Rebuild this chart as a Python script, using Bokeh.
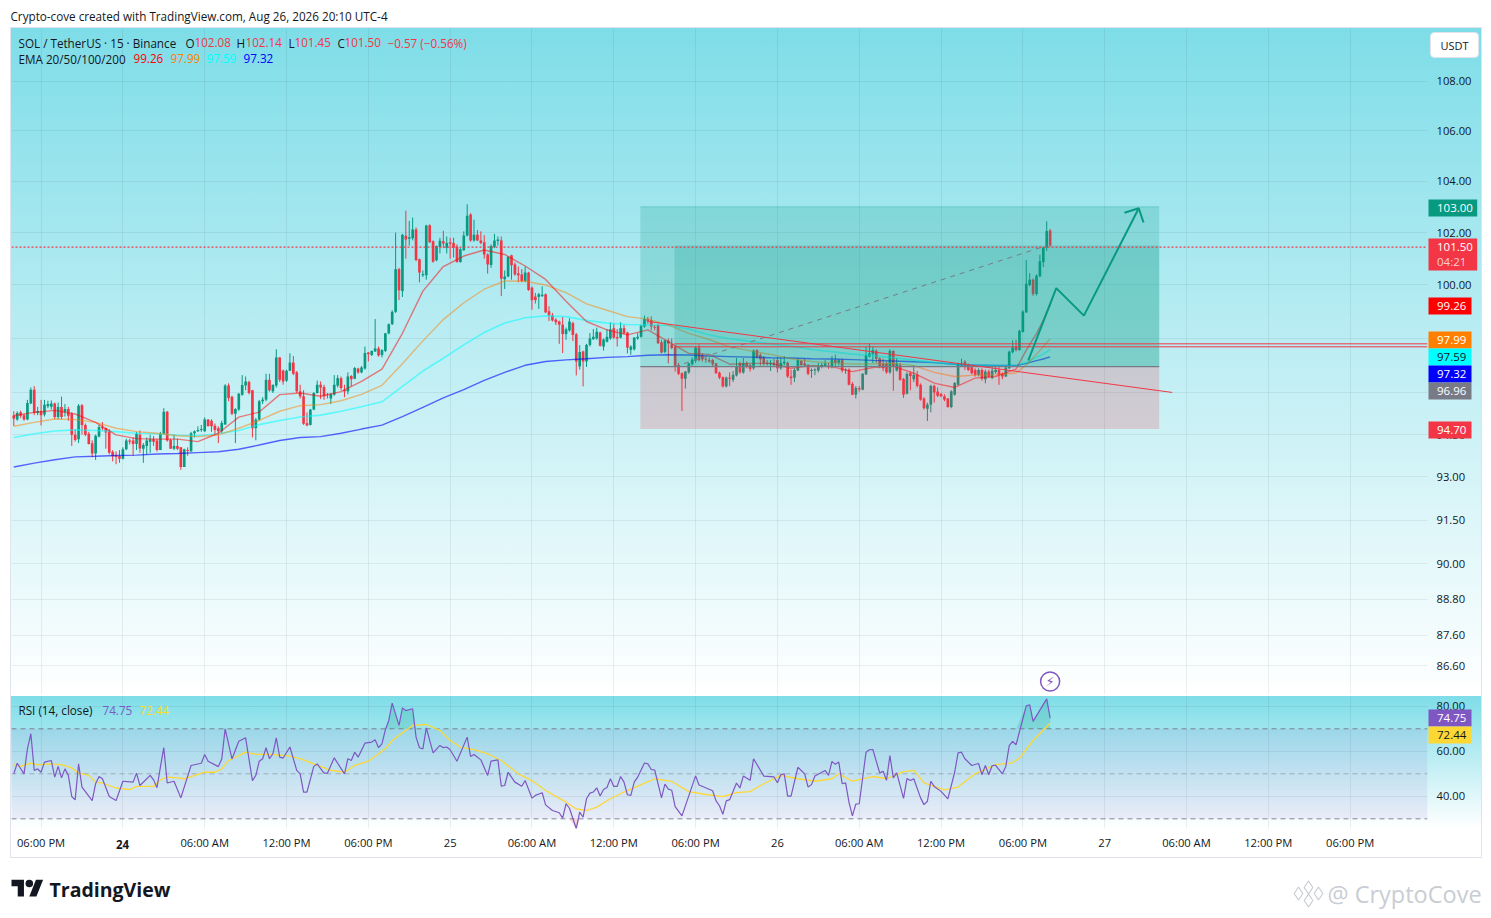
from bokeh.plotting import figure
from bokeh.layouts import column
from bokeh.models import Range1d, FixedTicker, NumeralTickFormatter, Label, Span, BoxAnnotation, Spacer
from bokeh.embed import file_html
from bokeh.resources import INLINE
from bokeh.core.properties import value
import numpy as np

opens = [95.19,95.04,95.3,95.2,95.04,95.62,96.12,95.28,95.35,95.22,
95.52,95.5,95.62,95.13,95.49,95.3,95.42,95.25,94.5,94.34,
95.56,94.85,94.53,94.19,93.83,94.43,94.77,94.74,94.62,93.89,
93.77,93.73,93.64,93.98,94.29,94.29,94.17,94.5,94.0,94.1,
94.25,94.34,94.29,93.95,94.53,95.32,94.31,94.0,94.1,94.05,
93.35,93.95,93.9,94.55,94.62,94.67,94.62,95.04,95.0,94.82,
94.73,94.62,94.86,96.27,95.86,95.25,95.4,95.94,96.27,96.4,
96.1,94.73,95.04,95.7,95.76,96.48,96.06,96.27,97.3,96.82,
96.45,96.81,97.11,96.75,96.06,95.88,94.91,94.85,95.4,96.0,
96.3,96.22,95.94,95.8,95.94,96.27,96.54,96.12,96.06,96.62,
96.52,96.89,96.75,96.89,97.48,97.39,97.52,97.63,97.39,97.54,
98.19,98.53,98.99,100.6,99.77,101.88,101.76,101.78,102.12,100.98,
100.37,100.37,102.28,101.67,100.94,101.45,101.67,101.42,101.63,101.6,
101.46,100.87,101.32,101.89,102.7,101.7,101.92,101.7,101.63,101.16,
100.76,101.46,101.68,101.7,100.22,100.32,101.13,100.78,100.44,100.4,
100.15,100.47,99.9,99.56,99.55,99.58,99.65,99.01,98.86,98.7,
98.63,98.51,98.16,98.3,98.57,98.15,96.97,97.52,97.15,97.76,
97.97,98.0,98.22,97.7,97.88,98.0,98.38,98.05,98.03,98.38,
98.22,97.58,97.6,98.0,98.06,98.44,98.72,98.68,98.43,98.49,
97.86,97.5,97.92,97.78,97.69,97.02,96.72,96.52,96.75,97.05,
97.18,97.66,97.39,97.25,97.2,97.2,97.08,96.74,96.58,96.24,
96.56,96.48,96.64,97.08,96.75,97.08,97.02,96.9,97.57,97.39,
97.3,97.1,97.05,97.1,97.2,96.9,97.08,97.1,96.6,96.56,
96.82,97.17,97.08,97.02,96.8,96.82,96.82,96.96,97.0,97.0,
96.94,97.2,97.1,97.2,96.82,96.85,96.33,95.94,96.17,96.12,
96.68,97.33,97.43,97.54,97.27,97.08,97.08,96.75,97.54,96.82,
97.02,96.51,95.97,96.72,96.5,96.66,96.3,95.8,95.43,95.58,
96.26,96.05,95.96,95.88,95.8,95.49,95.94,96.3,97.0,97.14,
97.02,96.94,96.84,96.66,96.84,96.5,96.78,96.55,96.76,96.84,
96.7,96.6,96.9,97.49,97.69,97.57,98.24,98.97,100.0,100.2,
99.66,100.33,100.87,101.43,102.08]

highs = [95.34,95.34,95.36,95.25,95.75,96.2,96.25,95.5,95.75,95.75,
95.72,95.73,95.65,95.65,95.87,95.6,95.5,95.3,94.7,95.6,
95.6,94.9,94.6,94.3,94.5,94.85,94.95,94.75,94.7,93.95,
93.9,93.95,94.05,94.35,94.35,94.4,94.6,94.65,94.2,94.4,
94.5,94.45,94.35,94.6,95.45,95.35,94.35,94.5,94.35,94.05,
94.0,94.05,94.6,94.65,94.8,94.85,95.12,95.05,95.05,94.9,
94.8,95.0,96.32,96.35,95.9,95.45,96.0,96.65,96.6,96.45,
96.1,95.1,95.75,95.85,96.7,96.7,96.3,97.6,97.3,96.85,
96.85,97.45,97.35,96.8,96.3,96.1,95.3,95.42,96.03,96.45,
96.42,96.3,96.0,96.0,96.65,96.65,96.6,96.3,96.75,96.65,
96.95,96.92,96.98,97.7,97.5,97.55,98.72,97.7,97.6,98.2,
98.55,99.05,102.0,100.65,101.95,102.85,102.45,102.58,102.2,101.0,
100.55,102.3,102.32,101.7,101.5,101.8,102.07,101.85,101.8,101.8,
101.55,101.4,102.05,103.1,102.75,102.5,102.1,102.05,101.9,101.2,
101.55,101.95,101.85,101.85,100.55,101.1,101.15,100.85,100.7,100.6,
100.7,100.5,99.95,99.7,99.7,99.95,99.68,99.2,98.95,98.75,
98.66,98.8,98.4,98.75,98.62,98.2,97.75,97.55,97.8,98.2,
98.35,98.4,98.25,98.0,98.35,98.6,98.55,98.35,98.6,98.5,
98.25,97.75,98.05,98.2,98.5,98.85,98.8,98.82,98.5,98.55,
97.95,97.95,98.0,98.0,97.75,97.1,96.75,96.8,97.1,97.3,
97.7,97.78,97.45,97.35,97.3,97.25,97.1,96.78,96.6,96.6,
96.75,96.8,97.28,97.15,97.28,97.15,97.05,97.6,97.6,97.45,
97.35,97.2,97.2,97.25,97.3,97.28,97.35,97.15,96.85,96.9,
97.25,97.2,97.25,97.05,96.9,96.9,97.1,97.1,97.2,97.1,
97.35,97.4,97.25,97.25,96.9,96.9,96.4,96.25,96.25,96.72,
97.7,97.82,97.7,97.6,97.3,97.25,97.15,97.6,97.56,97.28,
97.1,96.55,96.75,96.78,97.0,96.8,96.35,95.85,95.65,96.3,
96.3,96.2,96.0,95.95,95.82,96.1,96.4,97.1,97.25,97.2,
97.08,97.0,96.9,96.9,96.9,96.85,96.85,96.95,96.95,96.95,
96.75,97.0,97.55,97.93,97.95,98.32,99.05,100.95,100.45,100.25,
100.4,101.15,101.45,102.44,102.14]

lows = [94.81,95.0,95.1,95.0,95.02,95.6,95.2,95.2,94.83,95.15,
95.45,95.4,95.05,95.05,95.05,95.15,95.0,94.1,94.25,94.2,
94.5,94.45,94.15,93.7,93.6,94.4,94.65,94.0,93.8,93.55,
93.45,93.5,93.62,93.95,94.15,93.75,93.95,93.85,93.5,93.8,
93.85,94.1,93.9,93.95,94.5,94.25,94.0,93.95,93.95,93.25,
93.35,93.75,93.9,94.4,94.6,94.6,94.6,94.8,94.6,94.5,
94.2,94.55,94.85,95.7,95.2,94.2,95.35,95.9,96.1,95.95,
94.4,94.3,95.0,95.6,95.7,96.05,96.0,96.2,96.4,96.3,
96.4,96.8,96.65,96.0,95.8,94.85,94.8,94.83,95.38,95.98,
95.78,95.75,95.8,95.6,95.9,96.2,96.1,95.85,95.95,96.25,
96.5,96.7,96.72,96.85,97.15,97.35,97.5,97.33,97.3,97.5,
98.15,98.5,98.95,99.43,99.55,101.0,101.5,101.7,100.9,100.1,
100.3,100.2,101.6,100.85,100.9,101.2,101.4,101.2,101.0,101.05,
100.85,100.85,101.3,101.85,101.65,101.65,101.68,101.55,101.0,100.43,
100.65,101.4,101.5,99.58,99.85,100.3,100.2,100.35,100.1,100.1,
100.1,99.78,99.07,99.3,99.1,99.55,98.95,98.65,98.63,98.5,
97.8,97.46,97.95,98.25,97.9,96.64,96.85,96.24,96.95,97.7,
97.95,97.95,97.7,97.55,97.85,97.95,97.98,97.7,98.0,98.15,
97.45,97.4,97.55,97.95,98.03,98.4,98.55,98.3,98.3,97.8,
97.45,97.45,97.08,97.6,96.78,96.65,95.35,96.16,96.7,97.0,
97.1,97.15,97.15,97.1,97.1,96.95,96.7,96.5,96.2,96.2,
96.25,96.4,96.6,96.7,96.7,96.9,96.78,96.85,97.25,97.0,
97.0,97.0,96.8,96.95,96.75,96.85,97.0,96.55,96.3,96.4,
96.8,96.95,96.95,96.65,96.55,96.65,96.75,96.9,96.95,96.88,
96.9,96.95,97.0,96.75,96.7,96.28,95.92,95.8,96.05,96.1,
96.65,97.3,97.1,97.1,96.9,96.8,96.7,96.7,96.08,96.78,
96.45,95.82,95.95,96.1,96.4,96.2,95.72,95.4,94.99,95.3,
95.65,95.85,95.85,95.7,95.47,95.45,95.9,96.28,96.95,96.85,
96.8,96.68,96.6,96.6,96.45,96.35,96.55,96.5,96.7,96.3,
96.5,96.58,96.88,97.45,97.52,97.55,98.22,98.95,99.95,99.58,
99.6,100.3,100.68,101.3,101.45]

closes = [95.07,95.28,95.18,95.04,95.64,96.12,95.28,95.35,95.2,95.57,
95.6,95.62,95.13,95.49,95.13,95.42,95.18,94.5,94.31,95.54,
94.85,94.5,94.17,93.83,94.46,94.77,94.73,94.58,93.86,93.73,
93.71,93.64,93.98,94.29,94.25,94.17,94.53,94.01,94.13,94.29,
94.34,94.25,93.95,94.53,95.32,94.29,94.0,94.1,94.0,93.35,
93.98,93.92,94.55,94.62,94.67,94.7,95.04,94.8,94.8,94.67,
94.62,94.92,96.27,95.82,95.25,95.42,95.97,96.29,96.42,96.0,
94.73,95.04,95.7,95.76,96.48,96.1,96.3,97.3,96.48,96.42,
96.81,97.11,96.7,96.06,95.88,94.89,94.83,95.4,96.0,96.3,
96.2,95.88,95.92,95.96,96.3,96.54,96.18,96.06,96.6,96.5,
96.91,96.75,96.93,97.46,97.42,97.54,97.63,97.37,97.57,98.19,
98.53,98.99,100.6,99.8,101.92,101.73,101.82,102.12,100.95,100.47,
100.41,102.27,101.63,100.88,101.48,101.69,101.58,101.6,101.57,101.42,
100.87,101.36,101.89,102.65,101.7,101.92,101.7,101.6,101.16,100.78,
101.48,101.7,101.73,100.24,100.32,101.06,100.75,100.4,100.37,100.15,
100.47,99.81,99.43,99.43,99.65,99.63,98.97,98.86,98.67,98.6,
98.51,98.16,98.34,98.63,98.13,97.15,97.5,97.15,97.76,98.0,
98.06,98.25,97.73,97.96,98.06,98.34,98.03,98.0,98.38,98.19,
97.66,97.7,98.03,98.06,98.47,98.72,98.63,98.44,98.4,97.82,
97.48,97.92,97.81,97.65,96.99,96.7,96.52,96.78,97.08,97.22,
97.66,97.2,97.23,97.22,97.15,97.05,96.72,96.56,96.24,96.56,
96.52,96.66,96.96,96.75,97.08,96.96,96.88,97.54,97.3,97.23,
97.08,97.05,97.1,97.02,96.9,97.1,97.14,96.6,96.54,96.84,
97.2,97.02,97.0,96.7,96.84,96.86,96.97,97.02,97.08,96.94,
97.2,97.1,97.2,96.82,96.85,96.3,95.94,96.18,96.13,96.7,
97.39,97.45,97.57,97.25,96.96,96.9,96.75,97.54,96.96,97.08,
96.48,95.94,96.7,96.62,96.66,96.26,95.76,95.45,95.58,96.26,
96.02,95.9,95.88,95.76,95.49,96.06,96.36,97.08,97.08,96.96,
96.84,96.72,96.66,96.84,96.52,96.78,96.6,96.82,96.84,96.66,
96.6,96.93,97.51,97.67,97.57,98.28,99.0,100.05,100.2,99.66,
100.35,100.9,101.43,102.06,101.5]

ema_bars = [0,6,12,18,24,30,36,42,48,54,60,66,72,78,84,90,96,
102,108,114,120,126,132,138,144,150,156,162,168,174,180,186,192,198,
204,210,216,222,228,234,240,246,252,258,264,270,276,282,288,294,297,300,302,304]
ema20 = [95.18,95.3,95.37,95.24,94.94,94.49,94.36,94.34,94.34,94.25,94.55,95.13,95.31,95.94,96.0,95.88,96.05,
96.42,96.87,98.19,99.77,100.7,101.1,101.33,101.16,100.72,100.21,99.39,98.63,98.32,98.13,98.32,97.88,97.45,
97.41,97.05,97.08,97.08,96.9,97.0,96.96,96.78,96.93,96.98,96.72,96.36,96.2,96.54,96.6,96.87,97.57,98.18,98.68,99.26]
ema50 = [94.8,94.94,95.06,95.04,94.94,94.73,94.61,94.55,94.46,94.43,94.49,94.73,95.01,95.34,95.54,95.58,95.72,
95.95,96.28,97.07,97.91,98.7,99.33,99.84,100.15,100.14,100.0,99.71,99.29,99.05,98.81,98.72,98.5,98.19,
97.96,97.69,97.54,97.41,97.25,97.15,97.1,97.06,97.06,97.08,97.0,96.75,96.6,96.65,96.66,96.73,97.02,97.42,97.69,97.99]
ema100 = [94.4,94.53,94.63,94.67,94.65,94.61,94.55,94.53,94.48,94.46,94.53,94.65,94.86,95.01,95.13,95.2,95.34,
95.5,95.68,96.24,96.8,97.27,97.76,98.22,98.57,98.77,98.84,98.81,98.67,98.57,98.52,98.5,98.48,98.35,
98.13,97.99,97.89,97.8,97.71,97.59,97.51,97.42,97.36,97.29,97.2,97.11,97.05,97.02,97.0,97.0,97.11,97.3,97.42,97.59]
ema200 = [93.35,93.49,93.61,93.71,93.73,93.76,93.77,93.81,93.83,93.86,93.89,93.98,94.13,94.29,94.4,94.43,94.55,
94.7,94.84,95.15,95.48,95.82,96.12,96.46,96.75,97.01,97.15,97.21,97.25,97.3,97.33,97.38,97.4,97.39,
97.35,97.33,97.31,97.29,97.28,97.25,97.24,97.22,97.19,97.17,97.14,97.11,97.05,97.02,97.0,97.0,97.08,97.18,97.24,97.32]

rsi_bars = [0,1,3,4,5,6,7,8,9,11,12,13,14,15,16,17,18,19,20,23,24,25,26,28,30,32,35,36,37,40,41,42,43,44,45,47,49,52,55,56,57,60,61,62,64,66,68,70,71,72,73,74,75,76,77,78,79,81,83,84,85,86,88,89,91,92,94,97,98,99,100,101,103,105,106,107,108,109,110,111,113,114,115,117,118,119,120,121,123,125,126,127,128,130,133,134,135,137,139,140,142,
143,144,145,147,149,150,152,153,155,156,158,160,161,162,163,165,166,167,168,169,170,171,172,173,174,175,176,177,178,179,180,181,182,183,185,186,187,188,190,191,192,193,194,196,198,200,201,205,206,207,208,209,210,212,213,214,216,217,220,221,223,224,225,226,227,228,230,232,233,234,235,238,239,240,241,242,243,244,245,246,247,248,250,251,252,254,255,256,257,258,259,261,262,263,264,266,267,268,269,270,272,274,276,277,278,279,281,283,284,285,286,287,288,290,291,292,293,294,297,298,299,303,304]
rsi_vals = [50,54.7,50,61.1,67.8,51.5,52.2,50.7,55.2,55.9,48.5,53.3,48.2,52.2,49.3,39.9,38.4,54.4,44.1,38.1,45.6,48.8,47.8,39.9,38.1,46.7,46.3,50.3,44.8,49.3,47.3,43.8,53,61.6,45.9,46.7,39.3,53.7,54.7,58.6,55.6,53.2,56.6,70,56.6,64.5,66,47,49.3,55.6,56.7,61.6,56.7,58.9,66,57.4,57,61.9,51.5,50,41.9,41.9,53.3,54.4,50.3,50.3,57.1,50,56.7,55.9,59.6,57.4,63.6,64.1,65.1,61.6,63.3,69.6,73.7,81.4,71.5,79.3,78.1,78.9,66.3,61.6,61.1,70.4,59.3,62.6,61.6,61.9,60.7,55.6,66.3,57.7,58.6,56.2,49.3,55.6,56.2,
44.5,44.8,50.7,46.3,44.5,47,39.2,40.4,41.6,36.2,33.7,32.7,30.3,36.7,34.7,25.6,33,30.7,38.9,41.4,41.9,43.8,40.1,43,43.9,47.8,44.4,44.4,48.8,46.3,40.7,40.4,46.3,48.5,54.8,54.4,51.9,51.7,39.3,45.4,43.2,42.7,35.4,31.3,40.2,49.1,45,42.5,38,35.8,32,38,38.5,45.9,43.7,49,47.1,56.7,49,48.9,48.6,46,49.6,50,40.1,40.1,52.9,50,44.1,45.2,49,51.5,49.3,55.5,54.2,55.2,45.6,46,37.3,31.3,36.5,36.7,59.6,60.7,60.8,50.4,51.1,47.1,58.1,48.2,50.4,39.1,47.9,47,47.8,39.3,36.3,37.8,46.7,44.4,42.2,38.9,50.7,59.3,59.6,56.7,53.7,54.6,49.6,53.7,49.6,53.7,53.8,50,53.3,62.5,64.4,62.9,80.2,80.7,73.3,83.3,74.75]
rsi_ma_bars = [0,2,5,7,10,14,17,19,22,24,26,30,34,36,41,43,45,48,50,54,56,59,61,63,66,68,71,75,80,84,88,93,97,100,104,109,111,113,117,121,125,128,131,135,139,
143,148,152,156,162,165,168,171,175,179,183,188,193,198,203,208,212,216,220,225,230,235,240,242,246,252,256,261,264,267,273,277,282,288,293,295,299,304]
rsi_ma_vals = [54.1,53.3,54.7,54,54.4,54.1,52.6,50.3,49.3,46.3,45.9,43.7,43,44.4,44.4,47.3,48.5,48.2,47.8,49.7,50.7,50.7,52.2,55.9,58.1,59.6,58.6,58.7,58.1,56.7,54.4,51.5,50.7,53.7,55.6,61.1,64.8,67,71.5,71.9,69.3,64.8,61.9,60.7,58.9,
55.9,50,47,42.6,37.4,34.4,33.7,35.2,38.9,41.9,44.5,47.8,46.6,42.1,40.8,39.9,41.6,42.1,45.6,49.3,47.8,46.7,47.8,50,46.7,48.8,47.8,51,51.5,46,42.9,44.1,50,54.1,54.9,57,64.8,72.44]

time_ticks = [8,32,56,80,104,128,152,176,200,224,248,272,296,320,344,368,392]
time_labels = ["06:00 PM","","06:00 AM","12:00 PM","06:00 PM","25","06:00 AM","12:00 PM","06:00 PM","26","06:00 AM","12:00 PM","06:00 PM","27","06:00 AM","12:00 PM","06:00 PM"]
price_ticks = [86.6,87.6,88.8,90,91.5,93,94.5,96,98,100,102,104,106,108]
rsi_ticks = [40,60,80]

entry_price, target_price, stop_price, last_price = 96.96, 103.00, 94.70, 101.50
pos_left, pos_entry_bar, pos_right = 183.8, 193.8, 336.0
ray_prices = [97.8, 97.69]
trend_bars, trend_prices = [186.2, 339.8], [98.63, 96.02]
dash_bars, dash_prices = [193.8, 303.0], [96.96, 101.50]
arrow_bars, arrow_prices = [297.6, 305.8, 313.9, 330.0], [97.19, 99.88, 98.85, 102.94]
head_bars, head_prices = [325.8, 330.0, 331.4], [102.77, 102.94, 102.39]

UP, DOWN = "#089981", "#f23645"
INK = "#131722"
FONT = "Open Sans"
X_RANGE = (-0.675, 414.7)
GRID = dict(grid_line_color="#2a2e39", grid_line_alpha=0.08)

def css(size_w, size_h, pos_x, pos_y, color):
    return f"linear-gradient({color},{color}) {pos_x}px {pos_y}px / {size_w}px {size_h}px no-repeat"

BORDER = "#e0e3eb"
TOPC = "rgb(126,221,232)"

# ---------- main pane ----------
p = figure(width=1483, height=695, output_backend="svg", toolbar_location=None, y_axis_type="log",
           x_range=Range1d(*X_RANGE), y_range=Range1d(85.66, 110.18), y_axis_location="right",
           min_border_left=11, min_border_right=56, min_border_top=28, min_border_bottom=1,
           background_fill_color=None, border_fill_color=None, outline_line_color=None)
p.styles = {"background": ", ".join([
    css(1, 668, 10, 27, BORDER), css(1, 668, 1481, 27, BORDER), css(1471, 1, 10, 27, BORDER),
    f"linear-gradient(180deg,{TOPC},#ffffff) 10px 28px / 1471px 666px no-repeat"])}
p.xaxis.visible = False
p.yaxis.ticker = FixedTicker(ticks=price_ticks)
p.yaxis.formatter = NumeralTickFormatter(format="0.00")
p.yaxis.major_tick_line_color = None
p.yaxis.minor_tick_line_color = None
p.yaxis.axis_line_color = None
p.yaxis.major_label_standoff = 3
p.yaxis.major_label_text_font = FONT
p.yaxis.major_label_text_font_size = "11.2px"
p.yaxis.major_label_text_color = INK
p.xgrid.ticker = FixedTicker(ticks=time_ticks)
p.ygrid.ticker = FixedTicker(ticks=price_ticks)
for g in (p.xgrid, p.ygrid):
    g.grid_line_color = GRID["grid_line_color"]; g.grid_line_alpha = GRID["grid_line_alpha"]

bars = np.arange(len(opens))
o, h, l, c = map(np.array, (opens, highs, lows, closes))
colors = np.where(c >= o, UP, DOWN).tolist()
p.segment(bars, h, bars, l, line_color=colors, line_width=1)
p.vbar(bars, 0.78, np.maximum(o, c), np.minimum(o, c), fill_color=colors, line_color=None)

p.line(ema_bars, ema200, line_color="#0000ff", line_alpha=0.6, line_width=1.4)
p.line(ema_bars, ema100, line_color="#00ffff", line_alpha=0.55, line_width=1.6)
p.line(ema_bars, ema50, line_color="#ff7f00", line_alpha=0.5, line_width=1.4)
p.line(ema_bars, ema20, line_color="#ff0000", line_alpha=0.5, line_width=1.4)

p.quad(left=pos_left, right=pos_right, bottom=entry_price, top=target_price, fill_color=UP, fill_alpha=0.2, line_color=None)
p.quad(left=pos_entry_bar, right=pos_right, bottom=entry_price, top=last_price, fill_color=UP, fill_alpha=0.2, line_color=None)
p.quad(left=pos_left, right=pos_right, bottom=stop_price, top=entry_price, fill_color=DOWN, fill_alpha=0.2, line_color=None)
p.segment(pos_left, entry_price, pos_right, entry_price, line_color="#787b86", line_width=1.3)
p.segment(pos_left, target_price, pos_right, target_price, line_color=UP, line_alpha=0.25, line_width=1)
p.line(dash_bars, dash_prices, line_color="#787b86", line_width=1, line_dash="5 5")
for rp in ray_prices:
    p.segment(pos_entry_bar, rp, X_RANGE[1], rp, line_color=DOWN, line_width=1)
p.line(trend_bars, trend_prices, line_color=DOWN, line_width=1)
p.line(arrow_bars, arrow_prices, line_color=UP, line_width=2)
p.line(head_bars, head_prices, line_color=UP, line_width=2)
p.add_layout(Span(location=last_price - 0.06, dimension="width", line_color=DOWN, line_width=1.3, line_dash="2 2"))

p.scatter([304], [86.08], size=19, marker="circle", fill_color="#ffffff", fill_alpha=0.6, line_color="#7e57c2", line_width=1.5)
p.text([304], [86.08], text=["⚡"], text_font=value("DejaVu Sans"), text_font_size="13px", text_color="#7e57c2",
       text_align="center", text_baseline="middle")

# ---------- RSI pane ----------
r = figure(width=1483, height=163, output_backend="svg", toolbar_location=None,
           x_range=p.x_range, y_range=Range1d(25.7, 84.35), y_axis_location="right",
           min_border_left=11, min_border_right=56, min_border_top=1, min_border_bottom=30,
           background_fill_color=None, border_fill_color=None, outline_line_color=None)
r.styles = {"background": ", ".join([
    css(1, 163, 10, 0, BORDER), css(1, 163, 1481, 0, BORDER), css(1472, 1, 10, 162, BORDER),
    f"linear-gradient(180deg,{TOPC},#ffffff) 10px 1px / 1471px 132px no-repeat"])}
r.xaxis.ticker = FixedTicker(ticks=time_ticks)
r.xaxis.major_label_overrides = dict(zip(time_ticks, time_labels))
r.yaxis.ticker = FixedTicker(ticks=rsi_ticks)
r.yaxis.formatter = NumeralTickFormatter(format="0.00")
r.yaxis.major_label_standoff = 3
r.xaxis.major_label_standoff = 0
for ax in (r.xaxis, r.yaxis):
    ax.major_tick_line_color = None
    ax.minor_tick_line_color = None
    ax.axis_line_color = None
    ax.major_label_text_font = FONT
    ax.major_label_text_font_size = "11.2px"
    ax.major_label_text_color = INK
r.xgrid.ticker = FixedTicker(ticks=time_ticks)
r.ygrid.ticker = FixedTicker(ticks=rsi_ticks)
for g in (r.xgrid, r.ygrid):
    g.grid_line_color = GRID["grid_line_color"]; g.grid_line_alpha = GRID["grid_line_alpha"]

r.add_layout(BoxAnnotation(bottom=30, top=70, fill_color="#7e57c2", fill_alpha=0.1, line_color=None, level="underlay"))
for lvl, a in [(70, 0.9), (50, 0.5), (30, 0.9)]:
    r.add_layout(Span(location=lvl, dimension="width", line_color="#787b86", line_width=1, line_dash="5 4", line_alpha=a, level="underlay"))
rv = np.array(rsi_vals)
r.varea(rsi_bars, np.full(rv.shape, 70.0), np.maximum(rv, 70), fill_color=UP, fill_alpha=0.2)
r.varea(rsi_bars, np.minimum(rv, 30), np.full(rv.shape, 30.0), fill_color=DOWN, fill_alpha=0.2)
r.line(rsi_ma_bars, rsi_ma_vals, line_color="#fdd835", line_width=1.3)
r.line(rsi_bars, rsi_vals, line_color="#7e57c2", line_width=1.2)

# ---------- overlay in page pixels: header, legends, price tags, footer ----------
ov = figure(width=1483, height=910, output_backend="svg", toolbar_location=None, frame_align=False,
            x_range=Range1d(0, 1483), y_range=Range1d(910, 0),
            min_border_left=0, min_border_right=0, min_border_top=0, min_border_bottom=0,
            background_fill_color=None, border_fill_color=None, outline_line_color=None)
ov.styles = {"position": "absolute", "left": "0px", "top": "0px", "width": "1483px", "height": "910px"}
ov.axis.visible = False
ov.grid.visible = False

def lab(px, py, text, color=INK, size=11.7, align="left", bold=False, bg=None, pad=0, alpha=1.0, border=None, radius=0):
    ov.add_layout(Label(x=px, y=py, x_units="canvas", y_units="canvas", text=text, level="overlay",
                        text_color=color, text_font=FONT, text_font_size=f"{size}px", text_align=align,
                        text_baseline="middle", text_alpha=alpha,
                        text_font_style="bold" if bold else "normal",
                        background_fill_color=bg, padding=pad, border_line_color=border, border_radius=radius))

def tag(top, bottom, right, color):
    ov.quad(left=1428, right=right, top=top, bottom=bottom, fill_color=color, line_color=None)

# page header
lab(10, 15, "Crypto-cove created with TradingView.com, Aug 26, 2026 20:10 UTC-4", size=11.7)
lab(18, 42, "SOL / TetherUS · 15 · Binance")
for x, t in [(185, "O"), (236, "H"), (288, "L"), (337, "C")]:
    lab(x, 42, t)
for x, t in [(194, "102.08"), (245, "102.14"), (294, "101.45"), (344, "101.50")]:
    lab(x, 42, t, color=DOWN)
lab(387, 42, "−0.57 (−0.56%)", color=DOWN)
lab(18, 58, "EMA 20/50/100/200")
for x, t, col in [(133, "99.26", "#ff0000"), (170, "97.99", "#ff7f00"), (206, "97.59", "#00ffff"), (243, "97.32", "#0000ff")]:
    lab(x, 58, t, color=col)

# USDT button
lab(1454, 44.5, "USDT", size=11, align="center", bg="#ffffff", pad=(10, 5), border=BORDER, radius=4)

# price-scale tags
for y0, y1, right, t, bg, fg in [(199, 216, 1476.7, "103.00", UP, "#ffffff"), (297, 314, 1471, "99.26", "#ff0000", "#ffffff"),
                                 (331, 348, 1471, "97.99", "#ff7f00", "#ffffff"), (348, 365, 1471, "97.59", "#00ffff", INK),
                                 (365, 382, 1471, "97.32", "#0000ff", "#ffffff"), (382, 399, 1471, "96.96", "#787b86", "#ffffff"),
                                 (421, 438, 1471, "94.70", DOWN, "#ffffff"), (709, 726, 1471, "74.75", "#7e57c2", "#ffffff"),
                                 (726, 743, 1471, "72.44", "#fdd835", INK)]:
    tag(y0, y1, right, bg)
    lab(1436.5, (y0 + y1) / 2, t, color=fg, size=11.5)
tag(238, 270, 1476.7, DOWN)
lab(1436.5, 246.5, "101.50", color="#ffffff", size=11.5)
lab(1436.5, 261, "04:21", color="#ffffff", size=11.5, alpha=0.75)

# RSI legend and the bold day label
lab(18, 709.5, "RSI (14, close)")
lab(102, 709.5, "74.75", color="#7e57c2")
lab(139, 709.5, "72.44", color="#fdd835")
lab(122, 843.5, "24", size=11.5, align="center", bold=True)

# footer: TradingView mark and watermark
sx, sy, ox, oy = 0.89, 0.94, 11.0, 875.4
logo_a = [(14,22),(7,22),(7,11),(0,11),(0,4),(14,4)]
logo_b = [(28,22),(20,22),(27.5,4),(35.5,4)]
for poly in (logo_a, logo_b):
    ov.patch([ox + a * sx for a, b in poly], [oy + b * sy for a, b in poly], fill_color="#131722", line_color=None)
ov.scatter([ox + 20 * sx], [oy + 8 * sy], size=7.5, marker="circle", fill_color="#131722", line_color=None)
lab(49, 888.5, "TradingView", size=19.5, bold=True)
lab(1327, 893, "@ CryptoCove", color="#c9cdd3", size=23.5)
ov.scatter([1308, 1298, 1318, 1308], [887, 893, 893, 900], marker="diamond", size=13, fill_color=None, line_color="#c9cdd3", line_width=1.2)

page = column(p, r, Spacer(width=1483, height=52), ov, spacing=0)
open("out.html", "w").write(file_html(page, INLINE))
